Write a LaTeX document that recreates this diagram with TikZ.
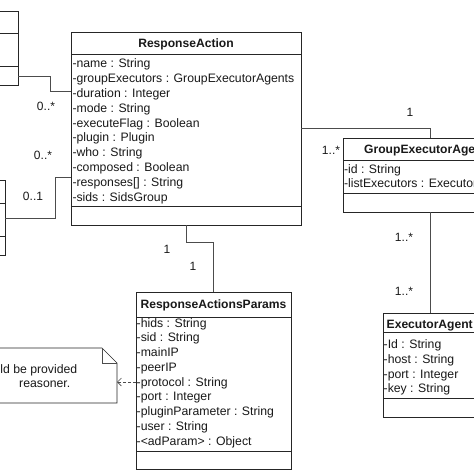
\documentclass[tikz,border=0pt]{standalone}
\usepackage{fontspec}
\setmainfont{Liberation Sans}
\usetikzlibrary{arrows.meta}
\tikzset{
  classbox/.style={draw=black!85, line width=0.95pt, inner sep=0pt, outer sep=0pt, anchor=north west},
  sepline/.style={draw=black!85, line width=0.95pt},
  conn/.style={draw=black!70, line width=0.6pt},
  attr/.style={anchor=base west, inner sep=0pt, text=black!90, font=\fontsize{12.25}{14}\selectfont},
  ctitle/.style={anchor=base, inner sep=0pt, text=black!90, font=\fontsize{12.1}{14}\selectfont\bfseries},
  mult/.style={anchor=center, inner sep=0pt, text=black!90, font=\fontsize{12}{14}\selectfont},
}
\begin{document}
\begin{tikzpicture}[x=1pt,y=-1pt]
\useasboundingbox (0,0) rectangle (474,474);
\fill[white] (0,0) rectangle (474,474);
\clip (0,0) rectangle (474,474);

% left top (cut off) class
\node[classbox, minimum width=80pt, minimum height=74pt] (lt) at (-62,11) {};
\draw[sepline] (lt.north west) ++(0,22) -- +(80,0);
\draw[sepline] (lt.north west) ++(0,55) -- +(80,0);

% left bottom (cut off) class
\node[classbox, minimum width=80pt, minimum height=75pt] (lb) at (-75,180) {};
\draw[sepline] (lb.north west) ++(0,23) -- +(80,0);
\draw[sepline] (lb.north west) ++(0,56) -- +(80,0);

% ResponseAction
\node[classbox, minimum width=230pt, minimum height=193pt] (ra) at (71,32) {};
\draw[sepline] (ra.north west) ++(0,22) -- +(230,0);
\draw[sepline] (ra.north west) ++(0,174) -- +(230,0);
\node[ctitle] (ra-t) at (186,47) {ResponseAction};
\foreach \t [count=\i] in {{-name : String},{-groupExecutors : GroupExecutorAgents},{-duration : Integer},{-mode : String},{-executeFlag : Boolean},{-plugin : Plugin},{-who : String},{-composed : Boolean},{-responses[] : String},{-sids : SidsGroup}}
  \node[attr] (ra-\i) at (72.3,{67.6+(\i-1)*14.87}) {\t};

% GroupExecutorAgents
\node[classbox, minimum width=180pt, minimum height=74pt] (gea) at (343,138) {};
\draw[sepline] (gea.north west) ++(0,22) -- +(180,0);
\draw[sepline] (gea.north west) ++(0,55) -- +(180,0);
\node[ctitle, anchor=base west] (gea-t) at (364,153) {GroupExecutorAgents};
\node[attr] (gea-1) at (343.8,173.4) {-id : String};
\node[attr] (gea-2) at (343.8,187.8) {-listExecutors : ExecutorAgent};

% ExecutorAgent
\node[classbox, minimum width=140pt, minimum height=104pt] (ea) at (383,313) {};
\draw[sepline] (ea.north west) ++(0,19) -- +(140,0);
\draw[sepline] (ea.north west) ++(0,85) -- +(140,0);
\node[ctitle, anchor=base west] (ea-t) at (386.5,328.8) {ExecutorAgent};
\foreach \t [count=\i] in {{-Id : String},{-host : String},{-port : Integer},{-key : String}}
  \node[attr] (ea-\i) at (383.5,{348.6+(\i-1)*14.7}) {\t};

% ResponseActionsParams
\node[classbox, minimum width=155pt, minimum height=177pt] (rap) at (136,292) {};
\draw[sepline] (rap.north west) ++(0,25) -- +(155,0);
\draw[sepline] (rap.north west) ++(0,159) -- +(155,0);
\node[ctitle] (rap-t) at (213.5,308.6) {ResponseActionsParams};
\foreach \t [count=\i] in {{-hids : String},{-sid : String},{-mainIP},{-peerIP},{-protocol : String},{-port : Integer},{-pluginParameter : String},{-user : String},{-<adParam> : Object}}
  \node[attr] (rap-\i) at (136.5,{327+(\i-1)*14.76}) {\t};

% note
\node[inner sep=0pt, outer sep=0pt, minimum width=177pt, minimum height=55pt, anchor=north east] (note) at (117,348) {};
\draw[sepline, line width=0.7pt] (note.north west) -- ([xshift=-15pt]note.north east) -- ([yshift=-15pt]note.north east) -- (note.south east) -- (note.south west);
\draw[black!70, line width=0.4pt] ([xshift=-15pt]note.north east) -- ([xshift=-15pt,yshift=-15pt]note.north east) -- ([yshift=-15pt]note.north east);
\node[attr, anchor=base east] (note-1) at (77.5,373.2) {ld be provided};
\node[attr] (note-2) at (19,387.6) {reasoner.};

% connectors
\draw[conn] (lt.east |- 0,76) -- (50,76) -- (50,91) -- (ra.west |- 0,91);
\draw[conn] (lb.east |- 0,218) -- (55,218) -- (55,177) -- (ra.west |- 0,177);
\draw[conn] (ra.east |- 0,128) -- (430,128) -- (gea.north -| 430,0);
\draw[conn] (gea.south -| 430,0) -- (ea.north -| 430,0);
\draw[conn] (ra.south -| 186,0) -- (186,242) -- (213,242) -- (rap.north -| 213,0);
\draw[conn, dashed, dash pattern=on 3pt off 2pt, -{Straight Barb[length=4pt,width=8pt]}] (rap.west |- 0,382) -- (note.east |- 0,382);

% multiplicities
\node[mult] (m1) at (46,106) {0..*};
\node[mult] (m2) at (43,155) {0..*};
\node[mult] (m3) at (33,196) {0..1};
\node[mult] (m4) at (410,112) {1};
\node[mult] (m5) at (331,150) {1..*};
\node[mult] (m6) at (404,237) {1..*};
\node[mult] (m7) at (404,291) {1..*};
\node[mult] (m8) at (167,249) {1};
\node[mult] (m9) at (193,266) {1};
\end{tikzpicture}
\end{document}
